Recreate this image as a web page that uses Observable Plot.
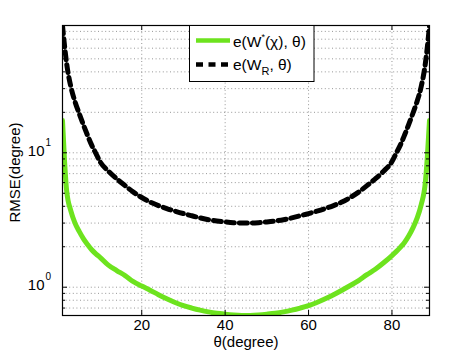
<!DOCTYPE html>
<html><head><meta charset="utf-8">
<script src="https://cdn.jsdelivr.net/npm/d3@7"></script>
<script src="https://cdn.jsdelivr.net/npm/@observablehq/plot@0.6"></script>
<style>html,body{margin:0;padding:0;background:#fff;} #chart{width:474px;height:355px;}</style>
</head><body><div id="chart"></div>
<script>
// ---- data ----
const theta = [1,1.5,2,3,4,5,6,7,8,9,10,12,14,16,18,20,22,24,26,28,30,32,34,36,38,40,42,44,45,46,48,50,52,54,56,58,60,62,64,66,68,70,72,74,76,78,80,81,82,83,84,85,86,87,88,88.5,89];
const rmseOpt = [17.4,8.6,5.2,3.7,3.0,2.6,2.3,2.08,1.9,1.77,1.67,1.46,1.33,1.22,1.1,1.02,0.95,0.88,0.82,0.77,0.73,0.70,0.675,0.655,0.64,0.63,0.622,0.617,0.616,0.617,0.622,0.63,0.64,0.655,0.675,0.70,0.73,0.77,0.82,0.88,0.95,1.03,1.12,1.24,1.36,1.52,1.72,1.84,1.98,2.15,2.4,2.75,3.25,4.1,6.0,9.5,17.4];
const rmseR = [88,62,46,31,24,19.6,16.2,13.5,11.4,9.9,8.6,7.3,6.4,5.7,5.1,4.65,4.3,4.05,3.85,3.68,3.53,3.4,3.28,3.18,3.11,3.06,3.02,3.0,3.0,3.0,3.02,3.06,3.11,3.18,3.28,3.4,3.53,3.68,3.85,4.05,4.3,4.65,5.1,5.7,6.4,7.3,8.6,9.9,11.4,13.5,16.2,19.6,24,31,46,62,88];
const xTickValues = [20,40,60,80];
const yTickValues = [1,10];
const yTickBase = ["10","10"];
const yTickExp = ["0","1"];
const yMinorValues = [0.7,0.8,0.9,2,3,4,5,6,7,8,9,20,30,40,50,60,70,80];
const xLabel = "θ(degree)";
const yLabel = "RMSE(degree)";

// ---- build tables ----
const optData = theta.map((t,i)=>({theta:t, rmse:rmseOpt[i]}));
const rData = theta.map((t,i)=>({theta:t, rmse:rmseR[i]}));

const W=474,H=355,mL=62,mR=45,mT=25,mB=40;
const fw=W-mL-mR, fh=H-mT-mB;
const green = "#6de31e";
const grid = {stroke:"#8c8c8c", strokeOpacity:0.9, strokeDasharray:"1,2.6", strokeWidth:1};

const chart = Plot.plot({
  width:W, height:H, marginLeft:mL, marginRight:mR, marginTop:mT, marginBottom:mB,
  style:{fontFamily:"'Liberation Sans', Arial, sans-serif", fontSize:"15px", background:"#fff", color:"#000", overflow:"visible"},
  x:{domain:[1,89], axis:null},
  y:{type:"log", domain:[0.616,88.5], axis:null},
  marks:[
    Plot.ruleX(xTickValues, grid),
    Plot.ruleY(yTickValues.concat(yMinorValues), grid),
    Plot.line(optData, {x:"theta", y:"rmse", stroke:green, strokeWidth:5, curve:"monotone-x", clip:true}),
    Plot.line(rData, {x:"theta", y:"rmse", stroke:"#000", strokeWidth:5, strokeDasharray:"8,5", curve:"monotone-x", clip:true}),
    Plot.frame({stroke:"#000", strokeWidth:1.2}),
    // inward ticks
    Plot.ruleX(xTickValues, {stroke:"#000", insetTop:fh-5}),
    Plot.ruleX(xTickValues, {stroke:"#000", insetBottom:fh-5}),
    Plot.ruleY(yTickValues, {stroke:"#000", insetRight:fw-5}),
    Plot.ruleY(yTickValues, {stroke:"#000", insetLeft:fw-5}),
    Plot.ruleY(yMinorValues, {stroke:"#000", insetRight:fw-3}),
    Plot.ruleY(yMinorValues, {stroke:"#000", insetLeft:fw-3}),
    // tick labels
    Plot.text(xTickValues, {x:d=>d, frameAnchor:"bottom", dy:14, text:d=>String(d), fontSize:15}),
    Plot.text(yTickValues, {y:d=>d, frameAnchor:"left", dx:-18, dy:-2, text:(d,i)=>yTickBase[i], textAnchor:"end", fontSize:15}),
    Plot.text(yTickValues, {y:d=>d, frameAnchor:"left", dx:-17, dy:-10, text:(d,i)=>yTickExp[i], textAnchor:"start", fontSize:10}),
    Plot.text([xLabel], {frameAnchor:"bottom", dy:31, text:d=>d, fontSize:15}),
    Plot.text([yLabel], {frameAnchor:"left", dx:-47, dy:2, rotate:-90, textAnchor:"middle", lineAnchor:"middle", text:d=>d, fontSize:15})
  ]
});
document.getElementById("chart").appendChild(chart);

// ---- legend ----
const svg = d3.select(chart);
const lg = svg.append("g").attr("font-family","'Liberation Sans', Arial, sans-serif").attr("font-size",15.5).attr("fill","#000").attr("text-anchor","start");
lg.append("rect").attr("x",189.5).attr("y",25.5).attr("width",124.5).attr("height",56).attr("fill","#fff").attr("stroke","#000").attr("stroke-width",1);
lg.append("line").attr("x1",196).attr("x2",230).attr("y1",40.5).attr("y2",40.5).attr("stroke",green).attr("stroke-width",4.5);
lg.append("line").attr("x1",196).attr("x2",231).attr("y1",64.5).attr("y2",64.5).attr("stroke","#000").attr("stroke-width",4.5).attr("stroke-dasharray","7,5.5");
const t1 = lg.append("text").attr("x",233).attr("y",47).attr("text-anchor","start");
t1.append("tspan").text("e(W");
t1.append("tspan").attr("font-size",9).attr("dy",-7).text("*");
t1.append("tspan").attr("dy",7).text("(χ), θ)");
const t2 = lg.append("text").attr("x",233).attr("y",70).attr("text-anchor","start");
t2.append("tspan").text("e(W");
t2.append("tspan").attr("font-size",11).attr("dy",5).text("R");
t2.append("tspan").attr("dy",-5).text(", θ)");
</script>
</body></html>
